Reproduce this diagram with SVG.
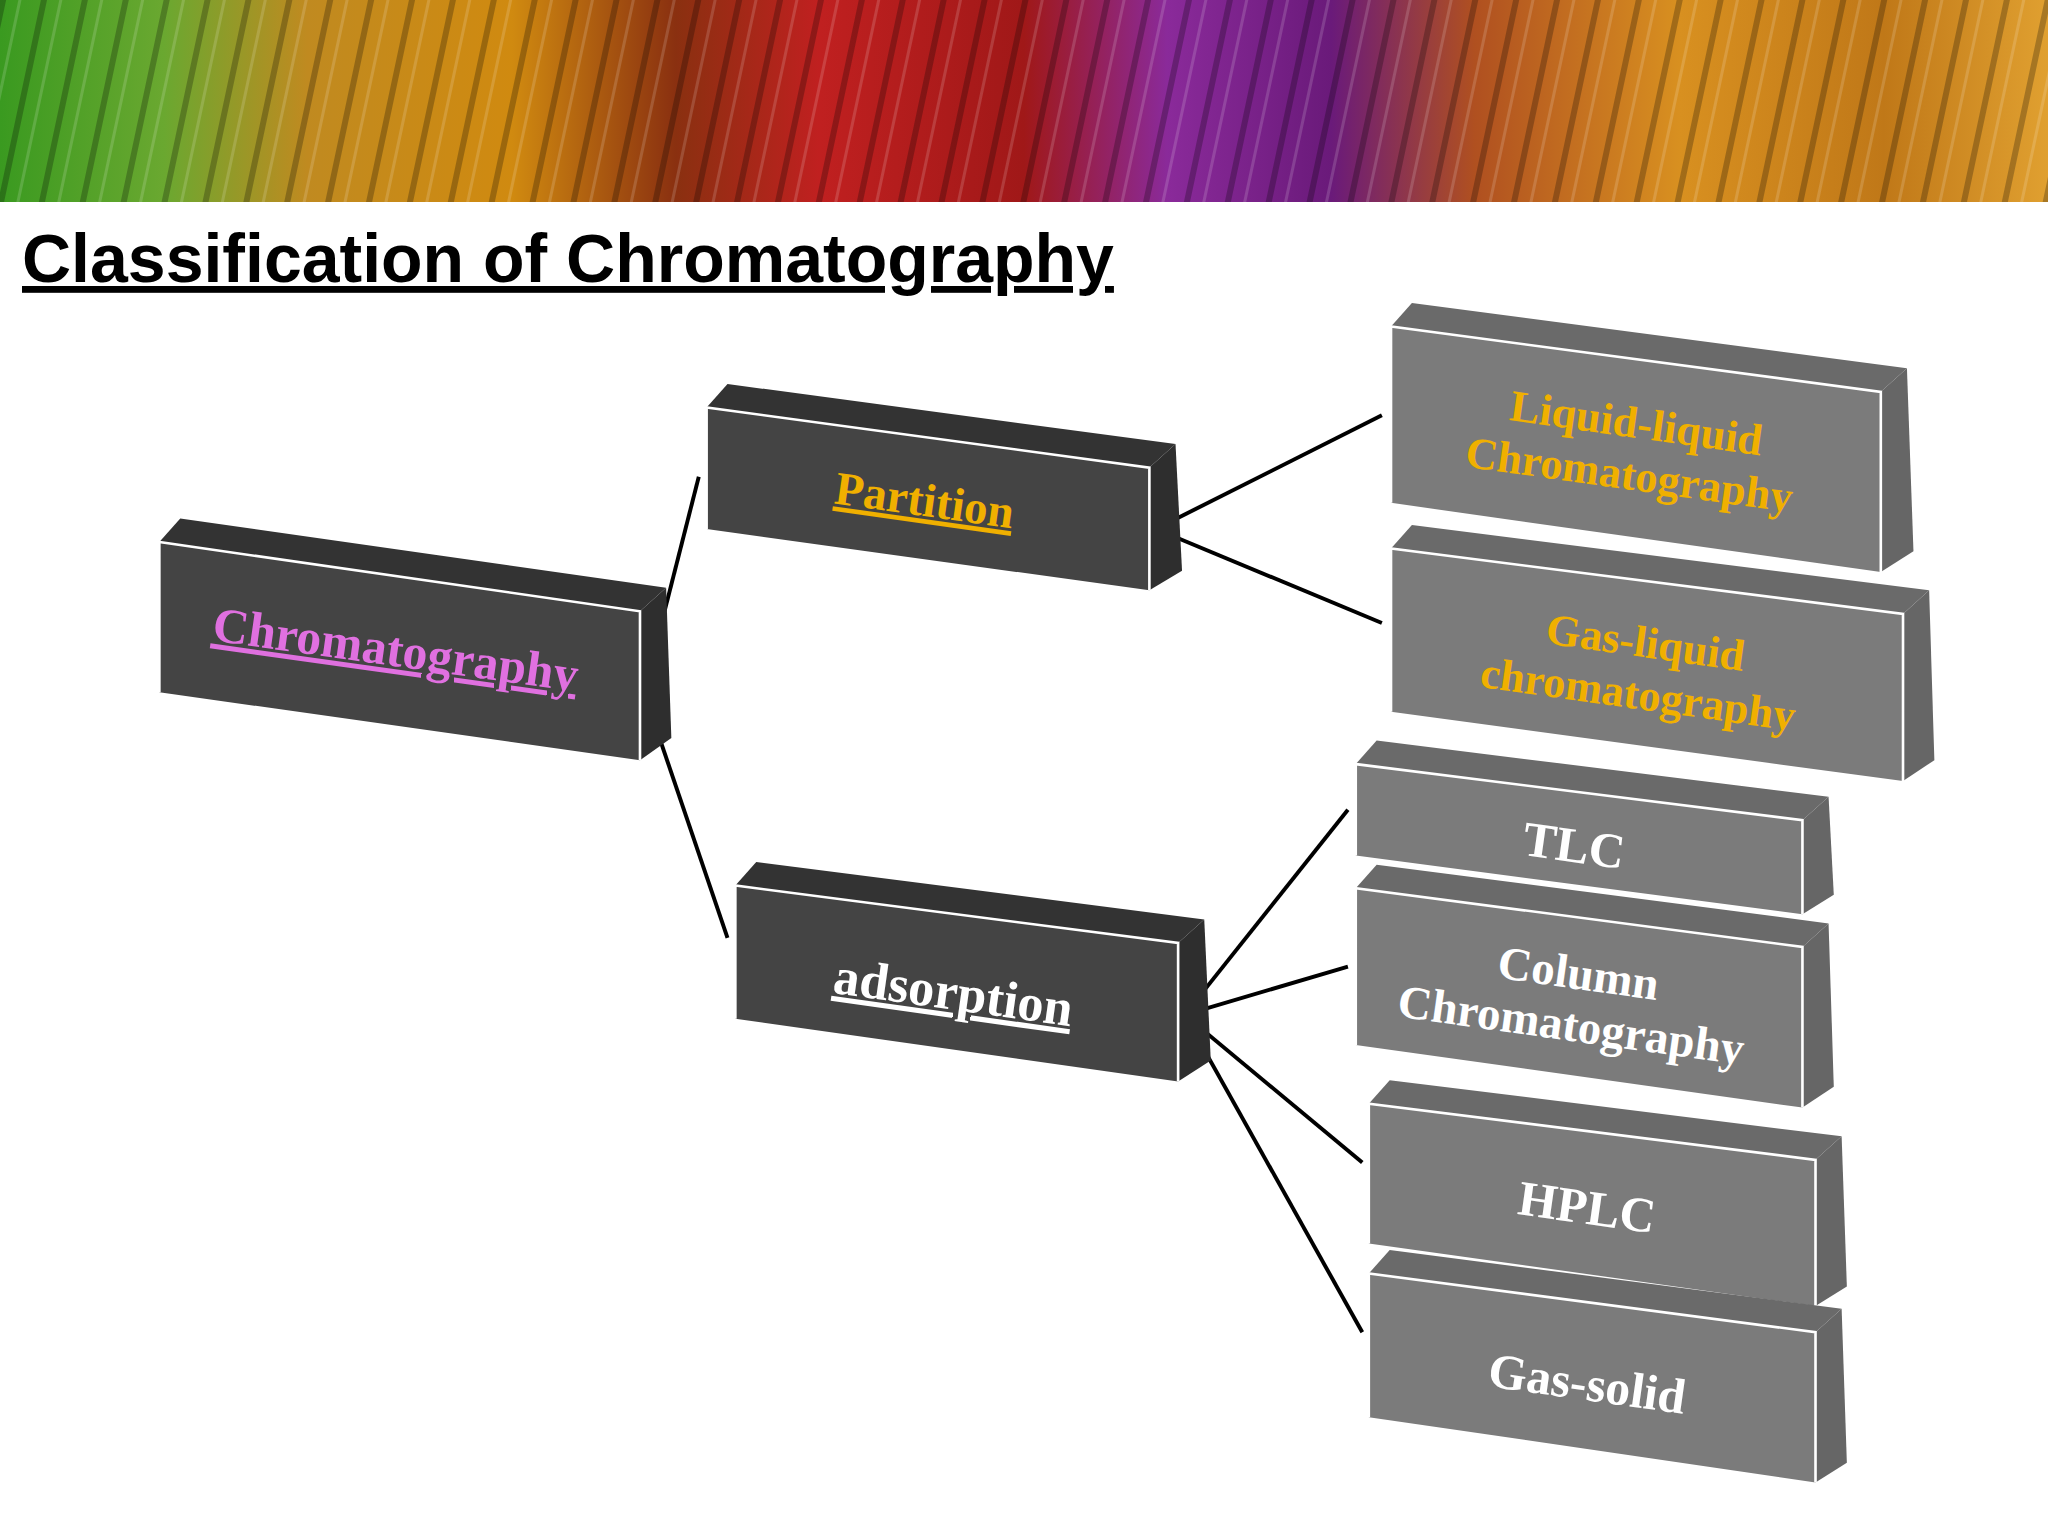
<svg xmlns="http://www.w3.org/2000/svg" width="2048" height="1536" viewBox="0 0 2048 1536">
<defs>
<linearGradient id="band" x1="0" y1="0" x2="1" y2="0">
<stop offset="0" stop-color="#3a9a20"/><stop offset="0.08" stop-color="#6aa830"/><stop offset="0.15" stop-color="#c08a20"/><stop offset="0.25" stop-color="#d08a10"/><stop offset="0.33" stop-color="#8a3010"/><stop offset="0.4" stop-color="#c02020"/><stop offset="0.5" stop-color="#a01818"/><stop offset="0.57" stop-color="#8a2a9a"/><stop offset="0.65" stop-color="#6a1a7a"/><stop offset="0.72" stop-color="#b05020"/><stop offset="0.82" stop-color="#d89020"/><stop offset="0.92" stop-color="#c07818"/><stop offset="1" stop-color="#e0a030"/>
</linearGradient>
<pattern id="streaks" width="40" height="202" patternUnits="userSpaceOnUse" patternTransform="rotate(12)">
<rect width="6" height="202" fill="#000" opacity="0.25"/><rect x="18" width="3" height="202" fill="#fff" opacity="0.15"/>
</pattern>
</defs>
<style>
.dark{fill:#444}.darktop{fill:#333}.darkside{fill:#2e2e2e}
.gray{fill:#7b7b7b}.graytop{fill:#6a6a6a}.grayside{fill:#666}
.edge{fill:none;stroke:#fff;stroke-width:2}
.lbl{font-family:"Liberation Serif",serif;font-weight:bold;text-anchor:middle}
.conn{stroke:#000;stroke-width:3;fill:none}
</style>
<rect x="0" y="0" width="2048" height="202" fill="url(#band)"/>
<rect x="0" y="0" width="2048" height="202" fill="url(#streaks)"/>
<text x="22" y="282" font-family="Liberation Sans,sans-serif" font-weight="bold" font-size="68" text-decoration="underline">Classification of Chromatography</text>
<g transform="scale(1.30612)">
<g id="connectors">
<line class="conn" x1="493" y1="530" x2="535" y2="365"/>
<line class="conn" x1="493" y1="530" x2="557" y2="718"/>
<line class="conn" x1="885" y1="405" x2="1058" y2="318"/>
<line class="conn" x1="885" y1="405" x2="1058" y2="477"/>
<line class="conn" x1="907" y1="777" x2="1032" y2="620"/>
<line class="conn" x1="907" y1="777" x2="1032" y2="740"/>
<line class="conn" x1="907" y1="777" x2="1043" y2="890"/>
<line class="conn" x1="907" y1="777" x2="1043" y2="1020"/>
</g>
<g id="n-chrom">
<polygon class="darktop" points="122,415 138,397 510,450 490,468"/>
<polygon class="darkside" points="490,468 510,450 514,565 490,582"/>
<polygon class="dark" points="122,415 490,468 490,582 122,530"/>
<polyline class="edge" points="122,530 122,415 490,468 490,582"/>
<text class="lbl" x="303" y="510" font-size="38" fill="#e070e0" text-decoration="underline" transform="rotate(8 303 497)">Chromatography</text>
</g>
<g id="n-partition">
<polygon class="darktop" points="541,312 557,294 900,340 880,358"/>
<polygon class="darkside" points="880,358 900,340 905,437 880,452"/>
<polygon class="dark" points="541,312 880,358 880,452 541,405"/>
<polyline class="edge" points="541,405 541,312 880,358 880,452"/>
<text class="lbl" x="708" y="395" font-size="36" fill="#f0b000" text-decoration="underline" transform="rotate(8 708 383)">Partition</text>
</g>
<g id="n-adsorption">
<polygon class="darktop" points="563,678 579,660 922,704 902,722"/>
<polygon class="darkside" points="902,722 922,704 927,812 902,828"/>
<polygon class="dark" points="563,678 902,722 902,828 563,780"/>
<polyline class="edge" points="563,780 563,678 902,722 902,828"/>
<text class="lbl" x="730" y="773" font-size="40" fill="#fff" text-decoration="underline" transform="rotate(8 730 760)">adsorption</text>
</g>
<g id="n-ll">
<polygon class="graytop" points="1065,250 1081,232 1460,282 1440,300"/>
<polygon class="grayside" points="1440,300 1460,282 1465,422 1440,438"/>
<polygon class="gray" points="1065,250 1440,300 1440,438 1065,385"/>
<polyline class="edge" points="1065,385 1065,250 1440,300 1440,438"/>
<g transform="rotate(8 1250 345)"><text class="lbl" x="1250" y="335" font-size="34" fill="#f0b000">Liquid-liquid</text><text class="lbl" x="1250" y="375" font-size="34" fill="#f0b000">Chromatography</text></g>
</g>
<g id="n-gl">
<polygon class="graytop" points="1065,420 1081,402 1477,452 1457,470"/>
<polygon class="grayside" points="1457,470 1477,452 1481,582 1457,598"/>
<polygon class="gray" points="1065,420 1457,470 1457,598 1065,545"/>
<polyline class="edge" points="1065,545 1065,420 1457,470 1457,598"/>
<g transform="rotate(8 1257 512)"><text class="lbl" x="1257" y="503" font-size="34" fill="#f0b000">Gas-liquid</text><text class="lbl" x="1257" y="543" font-size="34" fill="#f0b000">chromatography</text></g>
</g>
<g id="n-tlc">
<polygon class="graytop" points="1038,585 1054,567 1400,610 1380,628"/>
<polygon class="grayside" points="1380,628 1400,610 1404,685 1380,700"/>
<polygon class="gray" points="1038,585 1380,628 1380,700 1038,655"/>
<polyline class="edge" points="1038,655 1038,585 1380,628 1380,700"/>
<text class="lbl" x="1205" y="660" font-size="38" fill="#fff" transform="rotate(8 1205 648)">TLC</text>
</g>
<g id="n-column">
<polygon class="graytop" points="1038,680 1054,662 1400,707 1380,725"/>
<polygon class="grayside" points="1380,725 1400,707 1404,832 1380,848"/>
<polygon class="gray" points="1038,680 1380,725 1380,848 1038,800"/>
<polyline class="edge" points="1038,800 1038,680 1380,725 1380,848"/>
<g transform="rotate(8 1205 770)"><text class="lbl" x="1205" y="757" font-size="36" fill="#fff">Column</text><text class="lbl" x="1205" y="797" font-size="36" fill="#fff">Chromatography</text></g>
</g>
<g id="n-hplc">
<polygon class="graytop" points="1048,845 1064,827 1410,870 1390,888"/>
<polygon class="grayside" points="1390,888 1410,870 1414,985 1390,1000"/>
<polygon class="gray" points="1048,845 1390,888 1390,1000 1048,952"/>
<polyline class="edge" points="1048,952 1048,845 1390,888 1390,1000"/>
<text class="lbl" x="1215" y="937" font-size="38" fill="#fff" transform="rotate(8 1215 925)">HPLC</text>
</g>
<g id="n-gassolid">
<polygon class="graytop" points="1048,975 1064,957 1410,1002 1390,1020"/>
<polygon class="grayside" points="1390,1020 1410,1002 1414,1120 1390,1135"/>
<polygon class="gray" points="1048,975 1390,1020 1390,1135 1048,1085"/>
<polyline class="edge" points="1048,1085 1048,975 1390,1020 1390,1135"/>
<text class="lbl" x="1215" y="1072" font-size="38" fill="#fff" transform="rotate(8 1215 1060)">Gas-solid</text>
</g>
</g>
</svg>
